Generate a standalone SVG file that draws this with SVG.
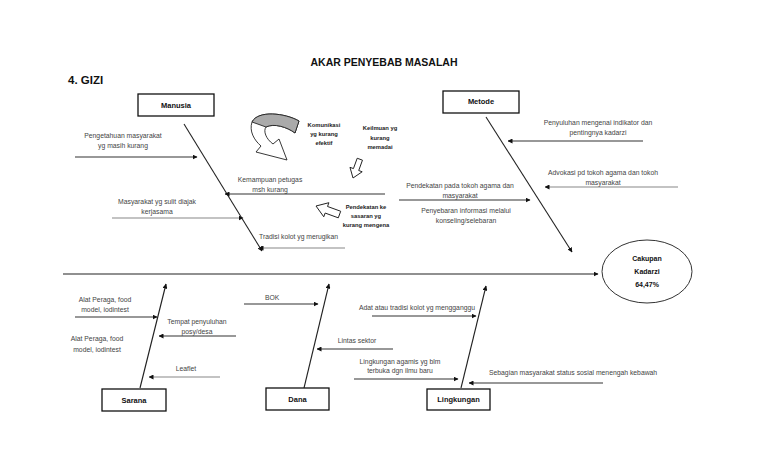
<svg xmlns="http://www.w3.org/2000/svg" width="768" height="466" viewBox="0 0 768 466">
<defs>
<marker id="ah" viewBox="0 0 10 10" refX="9" refY="5" markerWidth="5" markerHeight="5" orient="auto" markerUnits="userSpaceOnUse">
<path d="M0,0 L10,5 L0,10 Z" fill="#111"/>
</marker>
<style>
text{font-family:"Liberation Sans",Arial,sans-serif;fill:#444;font-size:6.8px}
.t{text-anchor:middle}
.b{font-weight:bold;fill:#111}
.box{fill:#fff;stroke:#111;stroke-width:1.3}
.bl{font-weight:bold;fill:#111;font-size:7.5px;text-anchor:middle}
.c{stroke:#333;stroke-width:1.1;fill:none;marker-end:url(#ah)}
.g{stroke:#888;stroke-width:1.1;fill:none;marker-end:url(#ah)}
.bone{stroke:#222;stroke-width:1.1;fill:none;marker-end:url(#ah)}
.sm{font-weight:bold;fill:#222;font-size:5.8px;text-anchor:middle}
</style>
</defs>
<rect width="768" height="466" fill="#fff"/>
<text x="384" y="66" class="t b" style="font-size:10.5px">AKAR PENYEBAB MASALAH</text>
<text x="68" y="84" class="b" style="font-size:11.5px">4.  GIZI</text>

<g id="connectors">
<line x1="63" y1="274" x2="598" y2="274" class="bone"/>
<line x1="184" y1="124" x2="262" y2="251" class="bone"/>
<line x1="486" y1="117" x2="572" y2="252" class="bone"/>
<line x1="140" y1="388" x2="166" y2="284" class="bone"/>
<line x1="304" y1="388" x2="329" y2="284" class="bone"/>
<line x1="461" y1="388" x2="486" y2="286" class="bone"/>
<line x1="75" y1="157" x2="197" y2="157" class="c"/>
<line x1="385" y1="194" x2="225" y2="194" class="c"/>
<line x1="112" y1="218" x2="243" y2="218" class="g"/>
<line x1="345" y1="248" x2="259" y2="248" class="g"/>
<line x1="643" y1="141" x2="508" y2="141" class="c"/>
<line x1="678" y1="187" x2="545" y2="187" class="g"/>
<line x1="399" y1="200" x2="530" y2="200" class="c"/>
<line x1="75" y1="317" x2="157" y2="317" class="c"/>
<line x1="236" y1="336" x2="159" y2="336" class="c"/>
<line x1="220" y1="377" x2="149" y2="377" class="g"/>
<line x1="244" y1="304" x2="318" y2="304" class="c"/>
<line x1="393" y1="349" x2="317" y2="349" class="c"/>
<line x1="372" y1="316" x2="476" y2="316" class="c"/>
<line x1="354" y1="379" x2="458" y2="379" class="c"/>
<line x1="603" y1="383" x2="469" y2="383" class="c"/>
</g>

<g id="manusia"><rect x="138" y="94" width="76" height="22" class="box"/><text x="176" y="107.5" class="bl">Manusia</text></g>
<g id="metode"><rect x="443" y="91" width="76" height="22" class="box"/><text x="481" y="104" class="bl">Metode</text></g>
<g id="sarana"><rect x="102" y="389" width="64" height="22" class="box"/><text x="134" y="402.5" class="bl">Sarana</text></g>
<g id="dana"><rect x="266" y="388" width="63" height="22" class="box"/><text x="297.5" y="401.5" class="bl">Dana</text></g>
<g id="lingkungan"><rect x="427" y="389" width="63" height="21" class="box"/><text x="458.5" y="402" class="bl">Lingkungan</text></g>
<g id="cakupan"><ellipse cx="647" cy="271.5" rx="45" ry="31.5" fill="#fff" stroke="#333" stroke-width="1"/>
<text x="647" y="261" class="bl" style="font-size:7px">Cakupan</text>
<text x="647" y="274" class="bl" style="font-size:7px">Kadarzi</text>
<text x="647" y="287" class="bl" style="font-size:7px">64,47%</text></g>

<g id="labels">
<text x="123" y="138" class="t">Pengetahuan masyarakat</text>
<text x="123" y="148" class="t">yg masih kurang</text>
<text x="270" y="182" class="t">Kemampuan petugas</text>
<text x="270" y="192" class="t">msh kurang</text>
<text x="157" y="204" class="t">Masyarakat yg sulit diajak</text>
<text x="157" y="214" class="t">kerjasama</text>
<text x="259" y="239">Tradisi kolot yg merugikan</text>
<text x="598" y="125" class="t">Penyuluhan mengenai indikator dan</text>
<text x="598" y="135" class="t">pentingnya kadarzi</text>
<text x="603" y="175" class="t">Advokasi pd tokoh agama dan tokoh</text>
<text x="603" y="185" class="t">masyarakat</text>
<text x="460" y="188" class="t">Pendekatan pada tokoh agama dan</text>
<text x="460" y="198" class="t">masyarakat</text>
<text x="466" y="213" class="t">Penyebaran informasi melalui</text>
<text x="466" y="223" class="t">konseling/selebaran</text>
<text x="105" y="302" class="t">Alat Peraga, food</text>
<text x="105" y="312" class="t">model, iodintest</text>
<text x="197" y="324" class="t">Tempat penyuluhan</text>
<text x="197" y="334" class="t">posy/desa</text>
<text x="97" y="341" class="t">Alat Peraga, food</text>
<text x="97" y="352" class="t">model, iodintest</text>
<text x="186" y="371" class="t">Leaflet</text>
<text x="265" y="300">BOK</text>
<text x="357" y="343" class="t">Lintas sektor</text>
<text x="359" y="310">Adat atau tradisi kolot yg mengganggu</text>
<text x="400" y="364" class="t">Lingkungan agamis yg blm</text>
<text x="400" y="373" class="t">terbuka dgn ilmu baru</text>
<text x="489" y="375">Sebagian masyarakat status sosial menengah kebawah</text>
<text x="324" y="127" class="sm">Komunikasi</text>
<text x="324" y="136" class="sm">yg kurang</text>
<text x="324" y="145" class="sm">efektif</text>
<text x="380" y="130" class="sm">Keilmuan yg</text>
<text x="380" y="140" class="sm">kurang</text>
<text x="380" y="149" class="sm">memadai</text>
<text x="366" y="209" class="sm">Pendekatan ke</text>
<text x="366" y="218" class="sm">sasaran yg</text>
<text x="366" y="227" class="sm">kurang mengena</text>
</g>

<g id="shapes" stroke="#222" stroke-width="0.9" stroke-linejoin="miter">
<path d="M299,121 C285,113 258,110 252,122 C249,131 254,140 261,146 L256,152 L287,160 L279,139 L273,144 C266,139 263,131 266,127 C274,123 287,127 295,133 Z" fill="#fff"/>
<path d="M299,121 C285,113 258,110 252,122 L266,127 C274,123 287,127 295,133 Z" fill="#aaa"/>
<polygon points="-2.8,-20 2.8,-20 2.8,-9 6.5,-9 0,0 -6.5,-9 -2.8,-9" fill="#fff" transform="translate(353,178) rotate(20)"/>
<polygon points="-3.5,-25 3.5,-25 3.5,-11 7.5,-11 0,0 -7.5,-11 -3.5,-11" fill="#fff" transform="translate(316,206) rotate(110)"/>
</g>
</svg>
